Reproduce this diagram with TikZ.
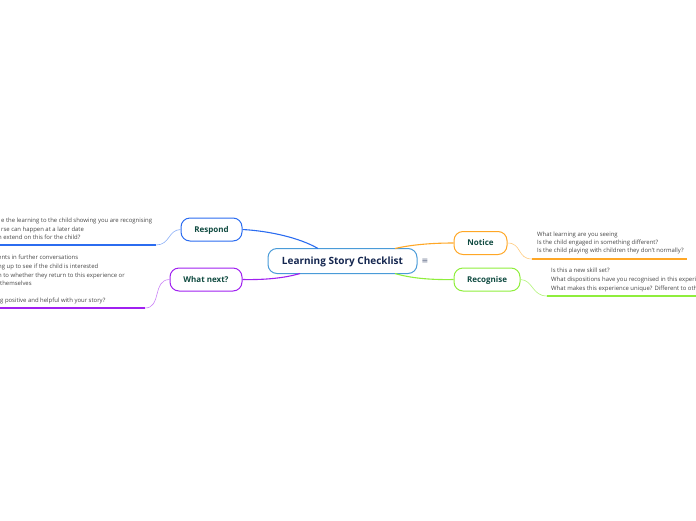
\documentclass[tikz,border=0pt]{standalone}
\usepackage{fontspec}
\setmainfont{Open Sans}
\newfontfamily\symfont{DejaVu Sans}
\definecolor{respondc}{HTML}{2B6CF0}
\definecolor{nextc}{HTML}{A020F0}
\definecolor{noticec}{HTML}{FFA726}
\definecolor{recognisec}{HTML}{8FEE3C}
\definecolor{rootc}{HTML}{4A9BD8}
\definecolor{roottext}{HTML}{14264F}
\definecolor{branchtext}{HTML}{0F4A40}
\definecolor{bodytext}{HTML}{454545}
\tikzset{
	rootbox/.style={draw=rootc,line width=1pt,rounded corners=9pt,minimum width=149pt,minimum height=25pt,inner sep=0pt,text=roottext,text height=8pt,text depth=1pt,font=\fontsize{10}{11}\selectfont\bfseries},
	branch/.style={line width=1pt,rounded corners=9pt,minimum height=23pt,inner sep=0pt,text=branchtext,text height=6.5pt,text depth=0.8pt,font=\fontsize{8}{9}\selectfont\bfseries},
	note/.style={anchor=west,inner sep=0pt,text=bodytext,text height=5.3pt,text depth=1pt,font=\fontsize{5.95}{8}\selectfont},
	mainlink/.style={line width=1.1pt},
	twig/.style={line width=0.6pt},
	under/.style={line width=1.5pt},
}
\begin{document}
\begin{tikzpicture}[x=1pt,y=-1pt]
	\useasboundingbox (0,0) rectangle (696,520);
	\clip (0,0) rectangle (696,520);
	\node[rootbox] (root) at (342.5,261) {Learning Story Checklist};
	\node[text=roottext!70!white,font=\symfont\fontsize{8}{9}\selectfont,inner sep=0pt] (menu) at (425,261) {≡};
	\node[branch,draw=respondc,minimum width=61pt] (respond) at (211.5,229.5) {Respond};
	\node[branch,draw=nextc,minimum width=72pt] (next) at (206,279.5) {What next?};
	\node[branch,draw=noticec,minimum width=53pt] (notice) at (480.5,243) {Notice};
	\node[branch,draw=recognisec,minimum width=66pt] (recognise) at (487,279.5) {Recognise};
	% links from the root
	\coordinate (rootnw) at (318,248.5);
	\coordinate (rootsw) at (300,273.5);
	\coordinate (rootne) at (395,248.5);
	\coordinate (rootse) at (395,273.5);
	\draw[mainlink,respondc] (respond.east) .. controls (270,231) and (300,238) .. (rootnw);
	\draw[mainlink,nextc] (next.east) .. controls (265,280) and (285,278) .. (rootsw);
	\draw[mainlink,noticec] (notice.west) .. controls (430,243) and (410,245) .. (rootne);
	\draw[mainlink,recognisec] (recognise.west) .. controls (430,280) and (410,278) .. (rootse);
	% text of each branch
	\foreach \x/\y/\t in {1/220.7/{e the learning to the child showing you are recognising},1/229/{rse can happen at a later date},-2/237.7/{n extend on this for the child?},-2/257.5/{ents in further conversations},-2/266/{ng up to see if the child is interested},-2/275/{n to whether they return to this experience or},0/283.3/{themselves},0/300/{g positive and helpful with your story?},537/234/{What learning are you seeing},537/242/{Is the child engaged in something different?},537/250.7/{Is the child playing with children they don't normally?},551/270.7/{Is this a new skill set?},551/279.3/{What dispositions have you recognised in this experience?},551/288/{What makes this experience unique? Different to others?}}
		\node[note] at (\x,\y) {\t};
	% underlines and twigs
	\coordinate (ra) at (0,245); \coordinate (rb) at (156,245);
	\coordinate (na) at (0,308); \coordinate (nb) at (145,308);
	\coordinate (oa) at (532,259); \coordinate (ob) at (687,259);
	\coordinate (ga) at (547,296); \coordinate (gb) at (696,296);
	\draw[under,respondc] (ra)--(rb);
	\draw[under,nextc] (na)--(nb);
	\draw[under,noticec] (oa)--(ob);
	\draw[under,recognisec] (ga)--(gb);
	\draw[twig,respondc!55!white] (rb) .. controls (170,245) and (168,230) .. (respond.west);
	\draw[twig,nextc!55!white] (nb) .. controls (162,308) and (152,280) .. (next.west);
	\draw[twig,noticec!60!white] (notice.east) .. controls (522,243) and (517,259) .. (oa);
	\draw[twig,recognisec!70!white] (recognise.east) .. controls (533,280) and (532,296) .. (ga);
\end{tikzpicture}
\end{document}
